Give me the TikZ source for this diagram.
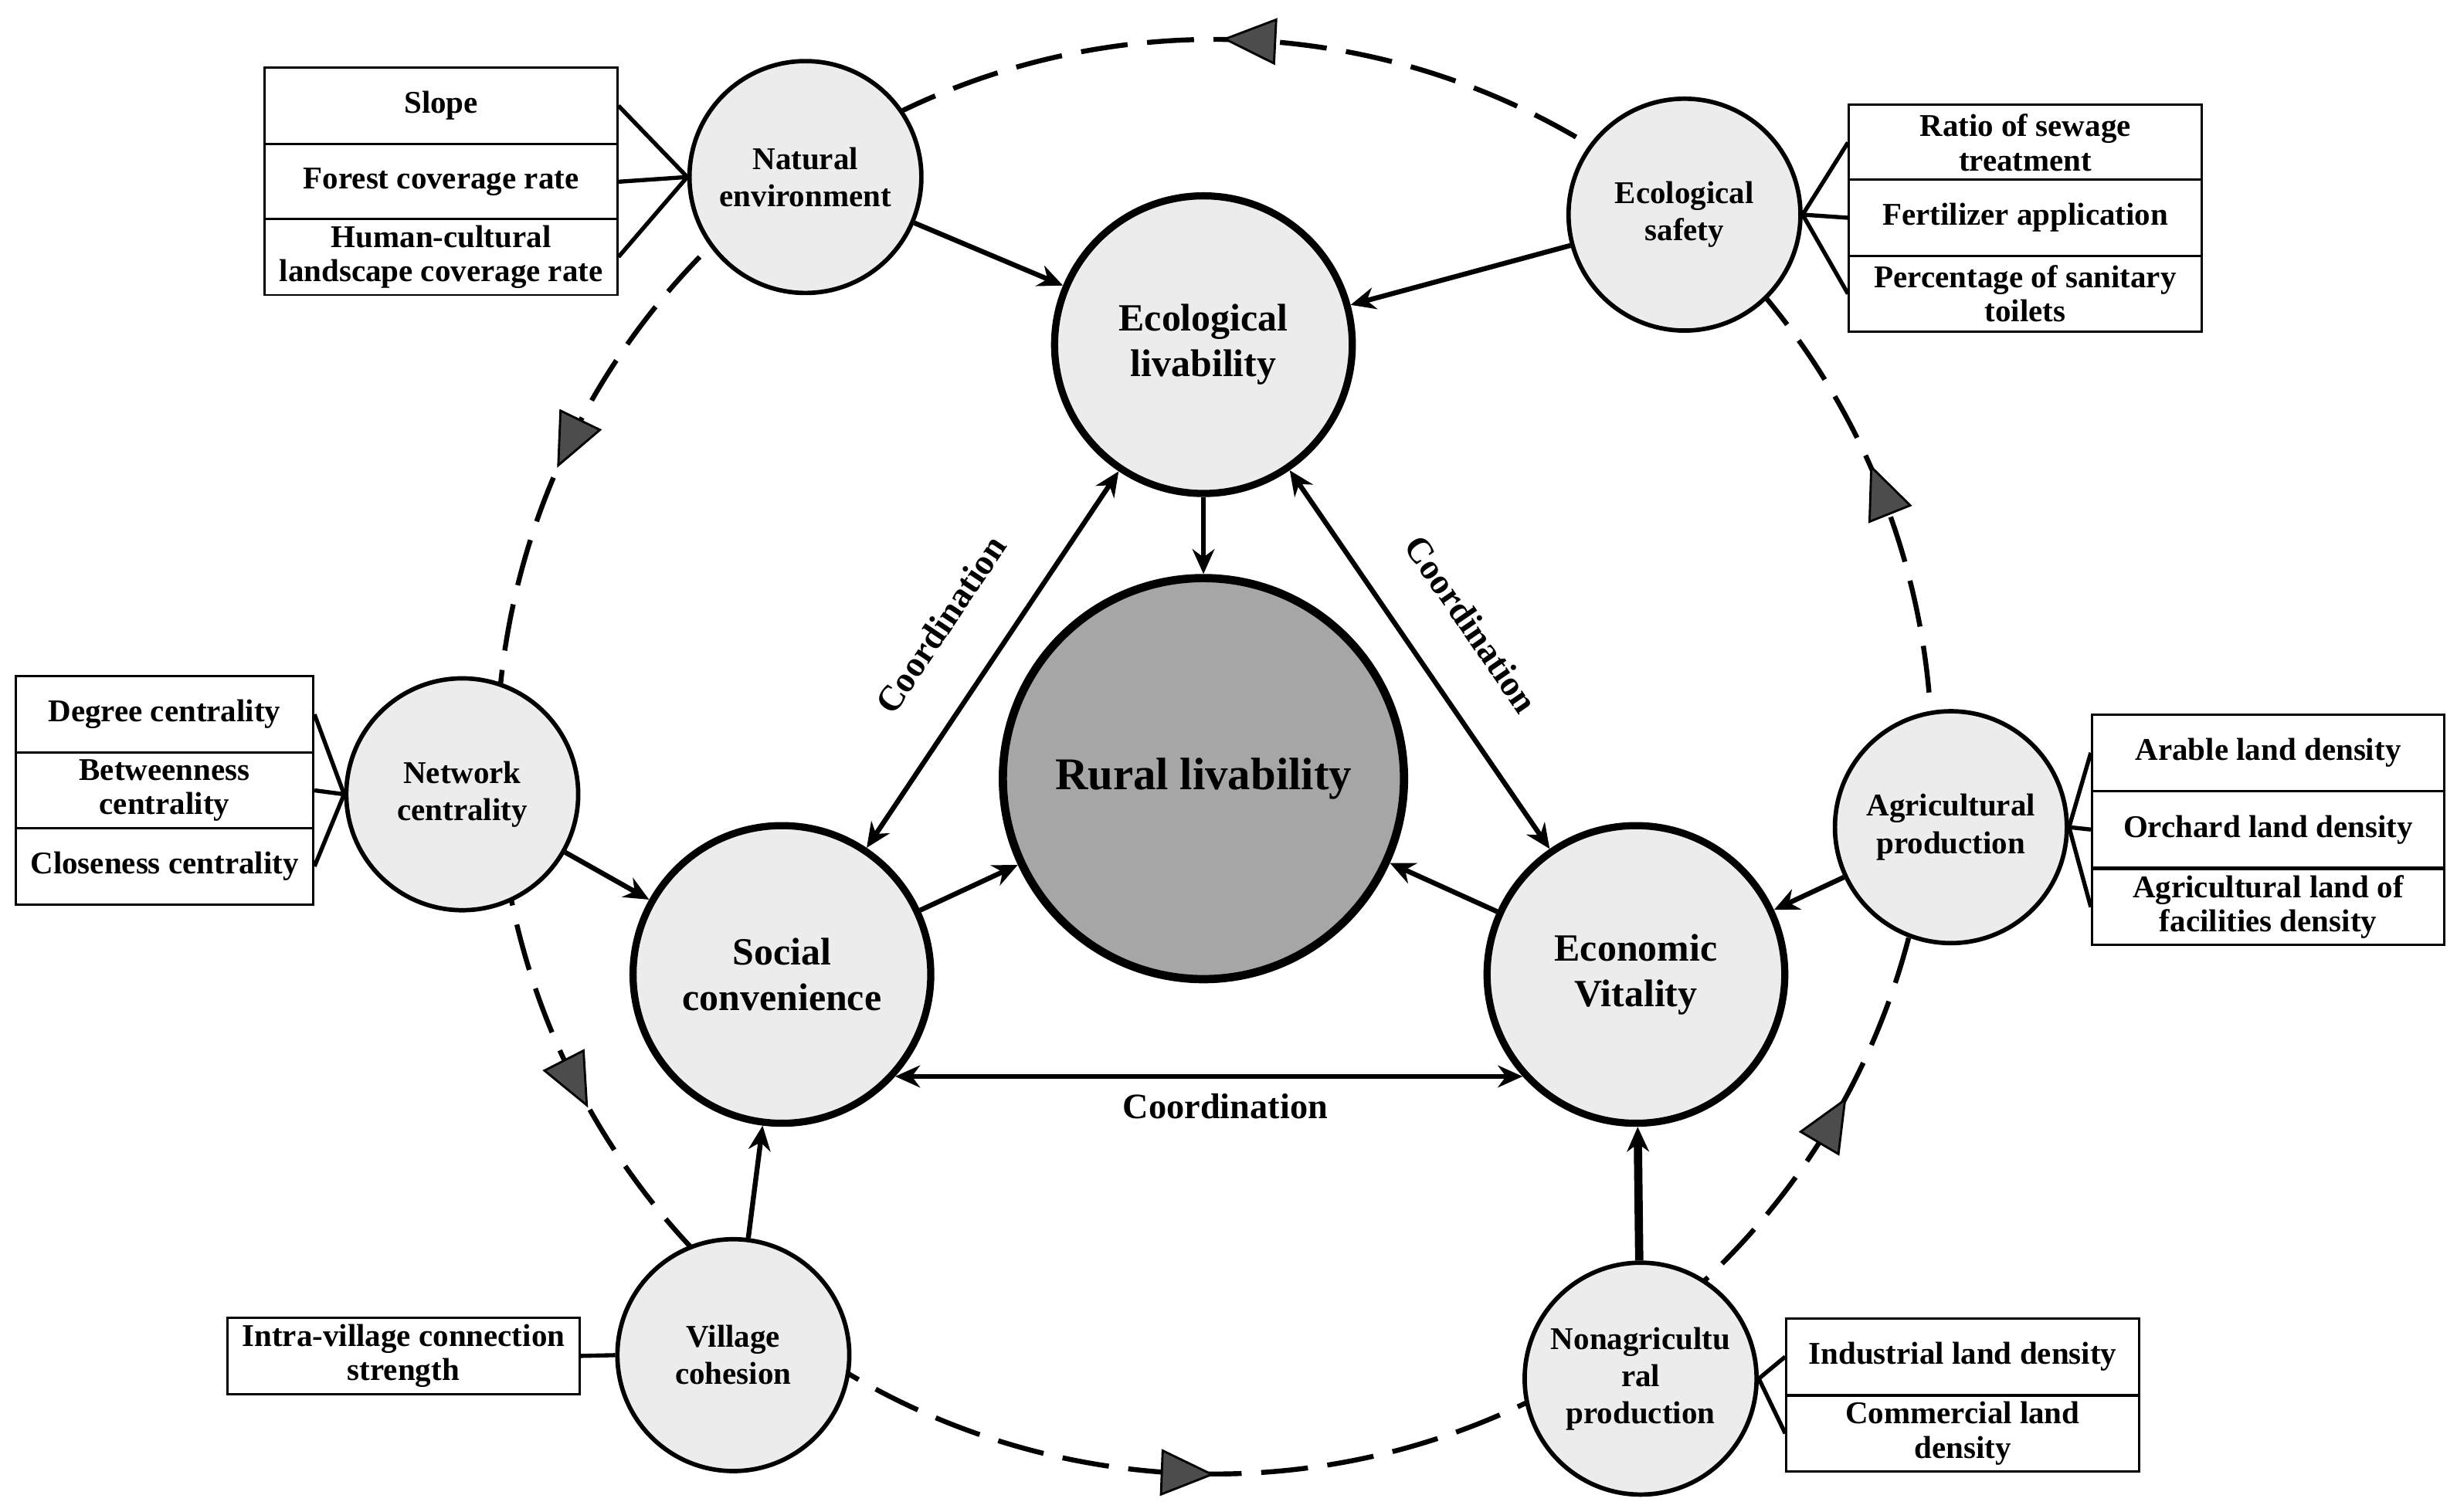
\documentclass[tikz,border=0pt]{standalone}
\usepackage{fontspec}
\setmainfont{Liberation Serif}
\usetikzlibrary{arrows.meta,decorations.markings}
\begin{document}
\begin{tikzpicture}[x=0.02cm,y=0.02cm,
 big/.style={circle,draw,line width=2.6pt,fill=gray!15,minimum size=190*0.02cm,align=center,font=\bfseries\fontsize{14}{16.5}\selectfont,inner sep=0pt},
 sm/.style={circle,draw,line width=1.6pt,fill=gray!15,minimum size=148*0.02cm,align=center,font=\bfseries\fontsize{11.5}{13.5}\selectfont,inner sep=0pt},
 box/.style={draw,line width=0.8pt,minimum width=225*0.02cm,minimum height=48.5*0.02cm,align=center,font=\bfseries\fontsize{11.5}{12.5}\selectfont,inner sep=1pt,fill=white},
 ln/.style={line width=1.5pt},
 ar/.style={line width=1.8pt,-{Stealth[length=9pt,width=8pt]}},
 dar/.style={line width=1.8pt,{Stealth[length=9pt,width=8pt]}-{Stealth[length=9pt,width=8pt]}},
 cl/.style={font=\bfseries\fontsize{13}{14}\selectfont},
 dsh/.style={line width=1.8pt,dash pattern=on 0.6cm off 0.25cm,postaction={decorate},
   decoration={markings,mark=at position 0.5 with {\filldraw[solid,fill=black!70,draw=black,line width=0.8pt] (0.32cm,0) -- (-0.32cm,0.28cm) -- (-0.32cm,-0.28cm) -- cycle;}}}]
\useasboundingbox (0,0) rectangle (1568,-965);
\coordinate (C) at (775,-483);
\def\R{9.16cm}
\foreach \a/\b in {49.1/125.2,125.2/182.9,182.9/231.2,231.2/304.4,304.4/354.5,-5.5/49.1}
 \draw[dsh] ([shift=(\a:\R)]C) arc[start angle=\a,end angle=\b,radius=\R];

\node[circle,draw,line width=3pt,fill=gray!70,minimum size=256*0.02cm,font=\bfseries\fontsize{16.5}{19}\selectfont] (rl) at (768,-497) {Rural livability};
\node[big] (el) at (768,-220) {Ecological\\livability};
\node[big] (sc) at (499,-622) {Social\\convenience};
\node[big] (ev) at (1044,-622) {Economic\\Vitality};
\node[sm] (ne) at (514,-113) {Natural\\environment};
\node[sm] (es) at (1075,-137) {Ecological\\safety};
\node[sm] (nc) at (295,-507) {Network\\centrality};
\node[sm] (ap) at (1245,-528) {Agricultural\\production};
\node[sm] (vc) at (468,-865) {Village\\cohesion};
\node[sm] (np) at (1047,-880) {Nonagricultu\\ral\\production};

% boxes
\node[box] (b1) at (281.5,-67.5) {Slope};
\node[box] (b2) at (281.5,-116) {Forest coverage rate};
\node[box] (b3) at (281.5,-164) {Human-cultural\\landscape coverage rate};
\node[box] (b4) at (1292.5,-91) {Ratio of sewage\\treatment};
\node[box] (b5) at (1292.5,-139) {Fertilizer application};
\node[box] (b6) at (1292.5,-187.5) {Percentage of sanitary\\toilets};
\node[box,minimum width=190*0.02cm] (b7) at (105,-456) {Degree centrality};
\node[box,minimum width=190*0.02cm] (b8) at (105,-504.5) {Betweenness\\centrality};
\node[box,minimum width=190*0.02cm] (b9) at (105,-553) {Closeness centrality};
\node[box] (b10) at (1447.5,-480.5) {Arable land density};
\node[box] (b11) at (1447.5,-529.5) {Orchard land density};
\node[box] (b12) at (1447.5,-579) {Agricultural land of\\facilities density};
\node[box] (b13) at (257.5,-865.5) {Intra-village connection\\strength};
\node[box] (b14) at (1252.5,-866) {Industrial land density};
\node[box] (b15) at (1252.5,-915) {Commercial land\\density};

\foreach \b in {b1,b2,b3} \draw[ln] (\b.east) -- (ne.west);
\foreach \b in {b4,b5,b6} \draw[ln] (\b.west) -- (es.east);
\foreach \b in {b7,b8,b9} \draw[ln] (\b.east) -- (nc.west);
\foreach \b in {b10,b11,b12} \draw[ln] (\b.west) -- (ap.east);
\draw[ln] (b13.east) -- (vc.west);
\foreach \b in {b14,b15} \draw[ln] (\b.west) -- (np.east);

% arrows
\draw[ar] (ne) -- (el);
\draw[ar] (es) -- (el);
\draw[ar] (nc) -- (sc);
\draw[ar] (ap) -- (ev);
\draw[ar] (vc) -- (sc);
\draw[ar,line width=3pt] (np) -- (ev);
\draw[ar] (el) -- (rl);
\draw[ar] (sc) -- (rl);
\draw[ar] (ev) -- (rl);
\draw[dar] (sc) -- node[midway,sloped,above=14pt,cl]{Coordination} (el);
\draw[dar] (el) -- node[midway,sloped,above=14pt,cl]{Coordination} (ev);
\draw[dar] (sc.-42) -- (ev.222);
\node[cl] (co) at (782,-706) {Coordination};
\end{tikzpicture}
\end{document}
